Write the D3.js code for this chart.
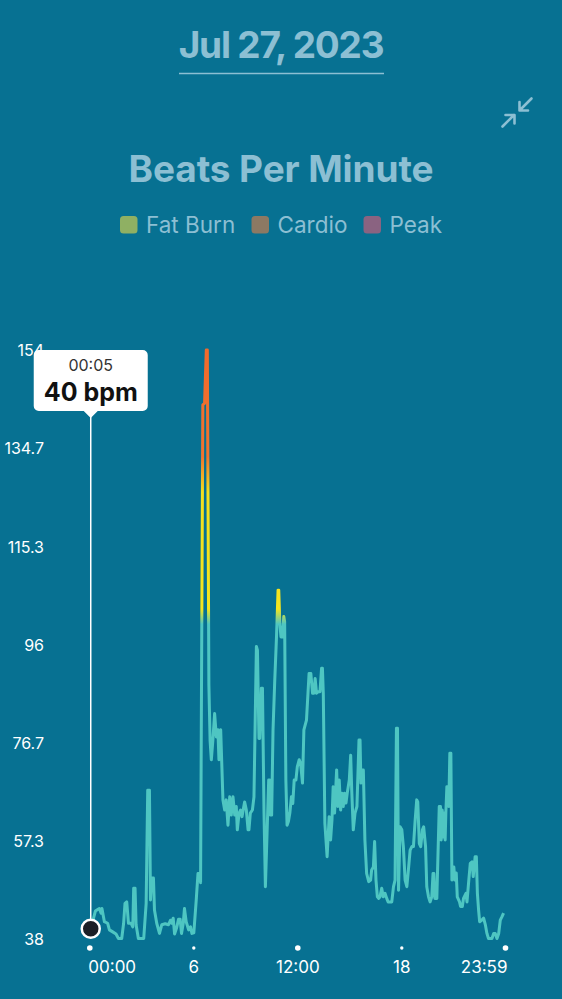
<!DOCTYPE html>
<html>
<head>
<meta charset="utf-8">
<script src="https://cdn.jsdelivr.net/npm/d3@7"></script>
<style>
  html, body { margin: 0; padding: 0; background: #077192; }
  svg { display: block; }
</style>
</head>
<body>
<svg id="chart" width="562" height="999"></svg>
<script>
// ---------- data ----------
const dateLabel = "Jul 27, 2023";
const chartTitle = "Beats Per Minute";
const legendNames = ["Fat Burn", "Cardio", "Peak"];
const legendColors = ["#8fb063", "#8c7963", "#8a6381"];

const yTickValues = [38, 57.3, 76.7, 96, 115.3, 134.7, 154];
const xTickValues = [0, 6, 12, 18, 23.983];
const xTickLabels = ["00:00", "6", "12:00", "18", "23:59"];

const tooltipTime = "00:05";
const tooltipHour = 0.083;
const tooltipBpm = 40;

// time of day in hours
const hours = [
  0.08, 0.35, 0.44, 0.58, 0.68, 0.73, 0.87, 1.06, 1.16, 1.35, 1.54, 1.68, 1.87, 1.98, 2.06, 2.16,
  2.26, 2.41, 2.51, 2.56, 2.64, 2.70, 2.83, 3.14, 3.28, 3.37, 3.47, 3.53, 3.59, 3.70, 3.76, 3.89,
  4.05, 4.18, 4.38, 4.57, 4.68, 4.76, 4.84, 4.92, 5.03, 5.15, 5.24, 5.32, 5.42, 5.49, 5.59, 5.73,
  5.84, 5.92, 6.03, 6.17, 6.27, 6.38, 6.42, 6.55, 6.65, 6.75, 6.81, 6.90, 6.97, 7.04, 7.13, 7.23,
  7.33, 7.42, 7.48, 7.58, 7.71, 7.81, 7.90, 8.00, 8.10, 8.19, 8.29, 8.39, 8.48, 8.54, 8.64, 8.73,
  8.81, 8.96, 9.06, 9.16, 9.21, 9.29, 9.41, 9.50, 9.64, 9.70, 9.79, 9.83, 9.93, 9.99, 10.08, 10.16,
  10.35, 10.40, 10.45, 10.52, 10.60, 10.70, 10.80, 10.89, 10.93, 10.99, 11.06, 11.14, 11.22, 11.27, 11.34, 11.41,
  11.49, 11.57, 11.66, 11.74, 11.82, 11.92, 12.00, 12.11, 12.19, 12.30, 12.38, 12.53, 12.68, 12.78, 12.88, 12.96,
  13.03, 13.11, 13.21, 13.31, 13.40, 13.45, 13.50, 13.59, 13.72, 13.84, 13.92, 14.00, 14.07, 14.15, 14.27, 14.34,
  14.42, 14.50, 14.58, 14.65, 14.73, 14.81, 14.88, 15.00, 15.08, 15.14, 15.23, 15.33, 15.44, 15.56, 15.62, 15.67,
  15.73, 15.81, 15.90, 16.00, 16.12, 16.23, 16.29, 16.39, 16.46, 16.54, 16.62, 16.70, 16.77, 16.87, 16.96, 17.06,
  17.16, 17.24, 17.35, 17.45, 17.55, 17.64, 17.72, 17.78, 17.84, 17.93, 18.03, 18.12, 18.22, 18.32, 18.41, 18.51,
  18.61, 18.70, 18.80, 18.89, 18.95, 19.04, 19.12, 19.22, 19.29, 19.40, 19.47, 19.57, 19.66, 19.76, 19.83, 19.88,
  19.94, 20.05, 20.19, 20.26, 20.30, 20.36, 20.42, 20.49, 20.53, 20.57, 20.63, 20.69, 20.74, 20.80, 20.86, 20.92,
  20.98, 21.03, 21.09, 21.17, 21.23, 21.36, 21.42, 21.52, 21.59, 21.73, 21.79, 21.88, 21.98, 22.08, 22.15, 22.26,
  22.33, 22.39, 22.46, 22.52, 22.63, 22.75, 22.85, 22.94, 23.03, 23.23, 23.33, 23.42, 23.52, 23.62, 23.71, 23.81,
  23.90
];
// beats per minute
const bpm = [
  40.0, 43.5, 43.7, 44.0, 43.1, 44.0, 41.4, 41.1, 39.8, 39.4, 39.0, 38.1, 38.1, 41.1, 45.0, 45.3,
  41.1, 41.1, 40.4, 48.0, 48.0, 40.8, 38.1, 38.1, 45.0, 67.3, 67.3, 45.7, 50.0, 50.0, 43.7, 41.1,
  39.1, 40.8, 41.0, 40.8, 41.7, 41.1, 42.1, 39.0, 40.1, 41.9, 41.9, 39.1, 41.1, 44.0, 41.4, 39.8,
  40.4, 39.1, 39.2, 45.7, 50.9, 50.9, 49.1, 143.2, 143.5, 154.0, 154.0, 88.0, 77.0, 73.3, 77.2, 82.4,
  77.8, 79.2, 73.3, 79.2, 65.4, 63.4, 65.4, 60.4, 66.0, 62.4, 66.0, 62.4, 64.1, 59.5, 62.8, 63.4,
  62.1, 65.0, 63.4, 59.5, 59.5, 62.8, 63.4, 66.0, 95.6, 94.9, 77.5, 77.5, 87.4, 87.4, 62.8, 48.3,
  69.3, 69.3, 62.4, 62.4, 79.2, 89.0, 97.5, 106.7, 106.7, 100.2, 97.5, 97.5, 101.5, 100.5, 69.3, 60.4,
  61.2, 62.8, 66.0, 64.7, 69.3, 69.3, 71.9, 73.3, 72.6, 68.7, 79.2, 81.1, 90.3, 90.3, 86.4, 86.4,
  89.3, 86.4, 86.7, 86.7, 91.3, 91.3, 86.4, 60.8, 54.2, 62.1, 57.5, 61.4, 68.0, 62.8, 71.3, 64.1,
  69.3, 63.4, 66.7, 64.1, 66.7, 64.8, 66.7, 69.3, 74.2, 67.3, 59.5, 62.8, 64.1, 77.2, 77.2, 68.7,
  71.3, 71.3, 57.5, 50.9, 49.3, 49.6, 51.6, 52.2, 57.2, 49.6, 46.3, 46.0, 46.3, 48.0, 46.3, 47.0,
  46.0, 45.3, 45.3, 45.3, 48.3, 49.6, 79.5, 79.5, 47.6, 60.1, 59.5, 56.2, 49.6, 48.3, 51.6, 55.5,
  56.2, 56.2, 61.4, 65.4, 65.0, 56.8, 56.2, 59.5, 60.1, 56.2, 48.3, 46.3, 45.3, 46.3, 50.9, 50.9,
  46.0, 46.0, 64.1, 64.1, 57.5, 63.4, 58.1, 62.8, 57.5, 62.8, 68.0, 68.0, 64.1, 74.6, 74.6, 49.6,
  52.2, 52.2, 49.6, 51.0, 46.3, 45.3, 44.4, 44.4, 46.0, 47.0, 45.3, 49.0, 52.9, 53.2, 50.3, 54.2,
  54.2, 47.0, 43.7, 41.4, 41.7, 42.1, 40.8, 39.1, 38.1, 38.1, 39.1, 39.1, 38.1, 39.1, 41.7, 42.4,
  43.1
];

// ---------- drawing ----------
const svg = d3.select("#chart");
const textColor = "#8cbfd3";
const lineColor = "#4ec6c2";

const x = d3.scaleLinear().domain([0, 23.983]).range([89.3, 505]);
const y = d3.scaleLinear().domain([38, 154]).range([939, 350]);

// date header
svg.append("text")
  .attr("x", 281).attr("y", 58)
  .attr("text-anchor", "middle")
  .attr("font-family", "Inter, 'Noto Sans', sans-serif")
  .attr("font-weight", 700)
  .attr("font-size", 37)
  .attr("letter-spacing", -1.2)
  .attr("fill", textColor)
  .text(dateLabel);
svg.append("line")
  .attr("x1", 179).attr("x2", 384).attr("y1", 73.5).attr("y2", 73.5)
  .attr("stroke", textColor).attr("stroke-width", 1.5);

// collapse icon
const icon = svg.append("g")
  .attr("fill", "none").attr("stroke", textColor)
  .attr("stroke-width", 2.6).attr("stroke-linecap", "round").attr("stroke-linejoin", "round");
icon.append("path").attr("d", "M531.5,98.5 L520,110 M519.5,102 L519.5,110.5 L528,110.5");
icon.append("path").attr("d", "M502.5,126.5 L514,115 M505.5,115 L514.5,115 L514.5,123.5");

// chart title
svg.append("text")
  .attr("x", 281).attr("y", 182)
  .attr("text-anchor", "middle")
  .attr("font-family", "Inter, 'Noto Sans', sans-serif")
  .attr("font-weight", 700)
  .attr("font-size", 37)
  .attr("letter-spacing", -0.1)
  .attr("fill", textColor)
  .text(chartTitle);

// legend
const legendX = [120, 251.5, 363.5];
const legend = svg.append("g");
legendNames.forEach((name, i) => {
  legend.append("rect")
    .attr("x", legendX[i]).attr("y", 216).attr("width", 17.5).attr("height", 17.5)
    .attr("rx", 3.5).attr("fill", legendColors[i]);
  legend.append("text")
    .attr("x", legendX[i] + 26).attr("y", 225)
    .attr("dy", "0.36em")
    .attr("font-family", "Inter, 'Noto Sans', sans-serif")
    .attr("font-size", 22.5)
    .attr("fill", textColor)
    .text(name);
});

// y axis
const yAxis = svg.append("g")
  .attr("transform", "translate(50,0)")
  .call(d3.axisLeft(y).tickValues(yTickValues).tickSize(0).tickPadding(6)
    .tickFormat(d => String(d)));
yAxis.select(".domain").remove();
yAxis.selectAll("text")
  .attr("fill", "#ffffff")
  .attr("font-family", "Inter, 'Noto Sans', sans-serif")
  .attr("font-size", 16)
  .attr("dy", "0.36em");

// x axis
const xAxis = svg.append("g")
  .attr("transform", "translate(0,948)")
  .call(d3.axisBottom(x).tickValues(xTickValues).tickSize(0).tickPadding(0)
    .tickFormat((d, i) => xTickLabels[i]));
xAxis.select(".domain").remove();
xAxis.selectAll(".tick").append("circle")
  .attr("r", (d, i) => (i % 2 === 0 ? 2.8 : 1.7))
  .attr("fill", "#ffffff");
xAxis.selectAll("text")
  .attr("fill", "#ffffff")
  .attr("font-family", "Inter, 'Noto Sans', sans-serif")
  .attr("font-size", 17)
  .attr("y", 19)
  .attr("dy", "0.36em")
  .attr("text-anchor", (d, i) => (i === 0 ? "start" : i === xTickValues.length - 1 ? "end" : "middle"))
  .attr("dx", (d, i) => (i === 0 ? -1.5 : i === xTickValues.length - 1 ? 2 : 0));

// gradient for heart-rate line
const defs = svg.append("defs");
const grad = defs.append("linearGradient")
  .attr("id", "hrGrad")
  .attr("gradientUnits", "userSpaceOnUse")
  .attr("x1", 0).attr("x2", 0)
  .attr("y1", y(38)).attr("y2", y(154));
const gradStops = [
  [38, lineColor], [100, lineColor], [103, "#f4e51f"], [126, "#f4df1f"], [133, "#f0742e"], [154, "#f06a2c"]
];
gradStops.forEach(([v, c]) => {
  grad.append("stop").attr("offset", (v - 38) / (154 - 38)).attr("stop-color", c);
});

const points = hours.map((h, i) => [h, bpm[i]]);
const line = d3.line().x(d => x(d[0])).y(d => y(d[1]));

// tooltip vertical rule
const tx = x(tooltipHour), ty = y(tooltipBpm);
svg.append("line")
  .attr("x1", tx).attr("x2", tx).attr("y1", y(154)).attr("y2", ty)
  .attr("stroke", "#ffffff").attr("stroke-width", 1.5);

svg.append("path")
  .datum(points)
  .attr("d", line)
  .attr("fill", "none")
  .attr("stroke", "url(#hrGrad)")
  .attr("stroke-width", 3)
  .attr("stroke-linejoin", "round");

// tooltip marker
svg.append("circle")
  .attr("cx", tx).attr("cy", ty).attr("r", 9)
  .attr("fill", "#1b1f27").attr("stroke", "#ffffff").attr("stroke-width", 2.5);

// tooltip box
const tip = svg.append("g");
tip.append("path")
  .attr("d", `M${tx - 52},350 h104 a5,5 0 0 1 5,5 v51 a5,5 0 0 1 -5,5 h-${52 - 7} l-7,7 l-7,-7 h-${52 - 7} a5,5 0 0 1 -5,-5 v-51 a5,5 0 0 1 5,-5 z`)
  .attr("fill", "#ffffff");
tip.append("text")
  .attr("x", tx).attr("y", 365).attr("dy", "0.36em")
  .attr("text-anchor", "middle")
  .attr("font-family", "Inter, 'Noto Sans', sans-serif")
  .attr("font-size", 16)
  .attr("fill", "#333333")
  .text(tooltipTime);
tip.append("text")
  .attr("x", tx).attr("y", 392).attr("dy", "0.36em")
  .attr("text-anchor", "middle")
  .attr("font-family", "Inter, 'Noto Sans', sans-serif")
  .attr("font-weight", 700)
  .attr("font-size", 25)
  .attr("fill", "#111111")
  .text(`${tooltipBpm} bpm`);
</script>
</body>
</html>
